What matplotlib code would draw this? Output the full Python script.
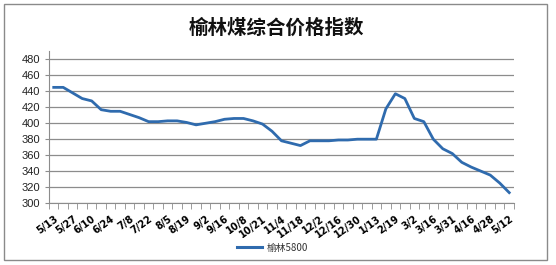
import matplotlib
matplotlib.use('Agg')
import matplotlib.pyplot as plt
from matplotlib.patches import Rectangle
from matplotlib.lines import Line2D

# 榆林煤综合价格指数 (榆林5800), weekly values
labels = ['5/13', '5/27', '6/10', '6/24', '7/8', '7/22', '8/5', '8/19', '9/2',
          '9/16', '10/8', '10/21', '11/4', '11/18', '12/2', '12/16', '12/30',
          '1/13', '2/19', '3/2', '3/16', '3/31', '4/16', '4/28', '5/12']
values = [445, 445, 438, 431, 428, 417, 415, 415, 411, 407,
          402, 402, 403, 403, 401, 398, 400, 402, 405, 406,
          406, 403, 399, 390, 378, 375, 372, 378, 378, 378,
          379, 379, 380, 380, 380, 418, 437, 431, 406, 402,
          380, 368, 362, 351, 345, 340, 335, 325, 313]
series_name = '榆林5800'
title = '榆林煤综合价格指数'

cjk = ['Noto Sans CJK SC', 'DejaVu Sans']
line_color = '#2F6BAE'
grid_color = '#8C8C8C'

fig = plt.figure(figsize=(5.56, 2.65), dpi=100)
fig.patch.set_facecolor('white')
fig.patches.append(Rectangle((0.007, 0.019), 0.977, 0.966, transform=fig.transFigure,
                             fill=False, edgecolor='#8A8A8A', linewidth=1.0))

ax = fig.add_axes([0.0881, 0.234, 0.8363, 0.5717])
x = list(range(len(values)))
ax.plot(x, values, color=line_color, linewidth=2.0, solid_joinstyle='round')

ax.set_xlim(-0.5, len(values) - 0.5)
ax.set_ylim(300, 490)
ax.set_yticks(range(300, 481, 20))
ax.yaxis.grid(True, color=grid_color, linewidth=0.9)
ax.set_axisbelow(True)

for s in ['top', 'right']:
    ax.spines[s].set_visible(False)
ax.spines['left'].set_color(grid_color)
ax.spines['bottom'].set_color(grid_color)

ax.set_xticks(x[::2])
ax.set_xticklabels(labels, rotation=36, ha='right', rotation_mode='anchor',
                   fontsize=7, fontweight='heavy', family='DejaVu Sans')
ax.set_xticks([i - 0.5 for i in range(len(values) + 1)], minor=True)
ax.tick_params(axis='x', which='major', length=0, pad=8)
ax.tick_params(axis='x', which='minor', length=4, color=grid_color, direction='out')
ax.tick_params(axis='y', length=3, color=grid_color, labelsize=8, labelcolor='#222222')
for t in ax.get_yticklabels():
    t.set_family('Liberation Sans')

fig.text(0.498, 0.894, title, ha='center', va='center', fontsize=14,
         fontweight='bold', family=cjk, color='#111111')

handle = Line2D([], [], color=line_color, linewidth=2.2)
fig.legend([handle], [series_name], loc='center', bbox_to_anchor=(0.49, 0.066),
           frameon=False, prop={'family': cjk, 'size': 7}, handlelength=2.6,
           handletextpad=0.4, labelcolor='#333333')

plt.savefig('out.png', dpi=100)
